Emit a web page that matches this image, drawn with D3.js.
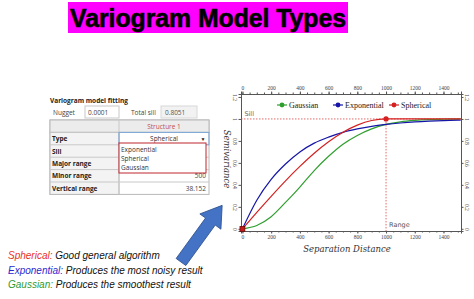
<!DOCTYPE html>
<html>
<head>
<meta charset="utf-8">
<script src="https://cdn.jsdelivr.net/npm/d3@7"></script>
<style>
  body { margin: 0; background: #fff; }
  svg { display: block; }
</style>
</head>
<body>
<div id="chart"></div>
<script>
// values
var distances   = [0, 100, 200, 300, 400, 500, 600, 700, 800, 900, 1000, 1100, 1200, 1300, 1400, 1500, 1520];
var gaussian    = [0, 0.03, 0.11, 0.24, 0.38, 0.53, 0.66, 0.77, 0.85, 0.91, 0.95, 0.974, 0.987, 0.994, 0.997, 0.999, 1];
var exponential = [0, 0.26, 0.45, 0.59, 0.70, 0.78, 0.835, 0.878, 0.909, 0.933, 0.95, 0.963, 0.973, 0.98, 0.985, 0.989, 0.99];
var spherical   = [0, 0.15, 0.296, 0.437, 0.568, 0.688, 0.792, 0.879, 0.944, 0.986, 1, 1, 1, 1, 1, 1, 1];
var seriesNames = ["Gaussian", "Exponential", "Spherical"];
var seriesColors = ["#2e9e2e", "#1515a8", "#d42020"];
var xTicks = [0, 200, 400, 600, 800, 1000, 1200, 1400];
var yTicks = [0, 0.2, 0.4, 0.6, 0.8, 1, 1.2];
var sillValue = 1;
var rangeValue = 1000;

var typeOptions = ["Exponential", "Spherical", "Gaussian"];
var tableRows = ["Type", "Sill", "Major range", "Minor range", "Vertical range"];
var notes = [
  {name: "Spherical:", text: " Good general algorithm", color: "#e8302a"},
  {name: "Exponential:", text: " Produces the most noisy result", color: "#2a2ad0"},
  {name: "Gaussian:", text: " Produces the smoothest result", color: "#2f9a2f"}
];

var svg = d3.select("#chart").append("svg")
  .attr("width", 474)
  .attr("height", 299);

// title
svg.append("rect").attr("x", 68).attr("y", 2).attr("width", 280).attr("height", 31).attr("fill", "#ff00ff");
svg.append("text")
  .attr("x", 70).attr("y", 27)
  .attr("font-family", "Liberation Sans, Arial, sans-serif")
  .attr("font-weight", "bold")
  .attr("font-size", 25)
  .attr("stroke", "#000").attr("stroke-width", 0.6)
  .attr("textLength", 276)
  .attr("lengthAdjust", "spacingAndGlyphs")
  .text("Variogram Model Types");

// ---- dialog screenshot ----
var ui = svg.append("g").attr("font-family", "Open Sans, Noto Sans, sans-serif").attr("font-size", 6.5);
ui.append("text").attr("x", 50).attr("y", 103).attr("font-weight", "bold").attr("fill", "#222").text("Variogram model fitting");
ui.append("text").attr("x", 53).attr("y", 115).attr("fill", "#444").text("Nugget");
ui.append("rect").attr("x", 85).attr("y", 106).attr("width", 34).attr("height", 12).attr("fill", "#fff").attr("stroke", "#c8c8c8");
ui.append("text").attr("x", 88).attr("y", 115).attr("fill", "#444").text("0.0001");
ui.append("text").attr("x", 131).attr("y", 115).attr("fill", "#444").text("Total sill");
ui.append("rect").attr("x", 161).attr("y", 106).attr("width", 36).attr("height", 12).attr("fill", "#f2f2f2").attr("stroke", "#d8d8d8");
ui.append("text").attr("x", 165).attr("y", 115).attr("fill", "#555").text("0.8051");

var tx = 50, tMid = 119, tRight = 209, tTop = 120, rowH = 12.4;
ui.append("rect").attr("x", tx).attr("y", tTop).attr("width", tRight - tx).attr("height", rowH * 6)
  .attr("fill", "#fff").attr("stroke", "#b8b8b8");
ui.append("rect").attr("x", tx).attr("y", tTop).attr("width", tRight - tx).attr("height", rowH)
  .attr("fill", "#ececec").attr("stroke", "#b8b8b8");
ui.append("rect").attr("x", tx).attr("y", tTop + rowH).attr("width", tMid - tx).attr("height", rowH * 5)
  .attr("fill", "#f3f3f3").attr("stroke", "#b8b8b8");
ui.append("text").attr("x", (tMid + tRight) / 2).attr("y", tTop + 8.5).attr("text-anchor", "middle")
  .attr("fill", "#c0504d").text("Structure 1");
tableRows.forEach(function(r, i) {
  var y = tTop + rowH * (i + 1);
  ui.append("line").attr("x1", tx).attr("x2", tRight).attr("y1", y).attr("y2", y).attr("stroke", "#c8c8c8");
  ui.append("text").attr("x", tx + 2).attr("y", y + 8.8).attr("font-weight", "bold").attr("fill", "#222").text(r);
});
ui.append("line").attr("x1", tMid).attr("x2", tMid).attr("y1", tTop).attr("y2", tTop + rowH * 6).attr("stroke", "#c8c8c8");
ui.append("rect").attr("x", tMid).attr("y", tTop + rowH).attr("width", tRight - tMid).attr("height", rowH)
  .attr("fill", "none").attr("stroke", "#7aa7d8");
ui.append("text").attr("x", 164).attr("y", tTop + rowH + 8.8).attr("text-anchor", "middle").attr("fill", "#333").text("Spherical");
ui.append("text").attr("x", 203).attr("y", tTop + rowH + 8.8).attr("text-anchor", "middle").attr("font-size", 5).attr("fill", "#222").text("\u25BC");
ui.append("text").attr("x", 206).attr("y", tTop + rowH * 4 + 8.8).attr("text-anchor", "end").attr("fill", "#444").text("500");
ui.append("text").attr("x", 206).attr("y", tTop + rowH * 5 + 8.8).attr("text-anchor", "end").attr("fill", "#444").text("38.152");
ui.append("rect").attr("x", 119).attr("y", 143).attr("width", 87).attr("height", 30)
  .attr("fill", "#fff").attr("stroke", "#c0272d").attr("stroke-width", 1);
typeOptions.forEach(function(o, i) {
  ui.append("text").attr("x", 121).attr("y", 151.5 + i * 9).attr("fill", "#333").text(o);
});

// arrow
var arrow = svg.append("g").attr("transform", "translate(181,262) rotate(-54)");
arrow.append("path")
  .attr("d", "M0,-6 L50,-6 L50,-13 L70,0 L50,13 L50,6 L0,6 Z")
  .attr("fill", "#4472c4").attr("stroke", "#2f528f").attr("stroke-width", 0.8);

// notes
var notesG = svg.append("g").attr("font-family", "Liberation Sans, Arial, sans-serif")
  .attr("font-style", "italic").attr("font-size", 10);
notes.forEach(function(n, i) {
  var t = notesG.append("text").attr("x", 8).attr("y", 259 + i * 14.5);
  t.append("tspan").attr("fill", n.color).text(n.name);
  t.append("tspan").attr("fill", "#111").text(n.text);
});

// ---- variogram chart ----
var x = d3.scaleLinear().domain([-10, 1522]).range([241, 461]);
var y = d3.scaleLinear().domain([-0.02, 1.227]).range([231, 94]);

var chart = svg.append("g").attr("font-family", "Liberation Serif, serif");

var tickFont = function(g) {
  g.select(".domain").attr("stroke", "#555");
  g.selectAll(".tick line").attr("stroke", "#555");
  g.selectAll(".tick text").attr("font-size", 5.5).attr("fill", "#444").attr("font-family", "Liberation Serif, serif");
};
var minorX = d3.range(0, 1550, 50);
var fmt = d3.format("d");

chart.append("g").attr("transform", "translate(0,231)")
  .call(d3.axisBottom(x).tickValues(minorX).tickSize(1.5).tickFormat(""))
  .call(tickFont);
chart.append("g").attr("transform", "translate(0,231)")
  .call(d3.axisBottom(x).tickValues(xTicks).tickSize(2.5).tickPadding(2).tickFormat(fmt))
  .call(tickFont);
chart.append("g").attr("transform", "translate(0,94)")
  .call(d3.axisTop(x).tickValues(minorX).tickSize(1.5).tickFormat(""))
  .call(tickFont);
chart.append("g").attr("transform", "translate(0,94)")
  .call(d3.axisTop(x).tickValues(xTicks).tickSize(2.5).tickPadding(1.5).tickFormat(fmt))
  .call(tickFont);

var yLeft = chart.append("g").attr("transform", "translate(241,0)")
  .call(d3.axisLeft(y).tickValues(yTicks).tickSize(2.5).tickFormat(d3.format("")))
  .call(tickFont);
yLeft.selectAll(".tick text").attr("text-anchor", "middle").attr("x", 0).attr("dy", "0.35em")
  .attr("transform", "translate(-6,0) rotate(90)");
var yRight = chart.append("g").attr("transform", "translate(461,0)")
  .call(d3.axisRight(y).tickValues(yTicks).tickSize(2.5).tickFormat(d3.format("")))
  .call(tickFont);
yRight.selectAll(".tick text").attr("text-anchor", "middle").attr("x", 0).attr("dy", "0.35em")
  .attr("transform", "translate(6,0) rotate(90)");

// sill and range guides
chart.append("line")
  .attr("x1", x.range()[0]).attr("x2", x.range()[1])
  .attr("y1", y(sillValue)).attr("y2", y(sillValue))
  .attr("stroke", "#d44").attr("stroke-width", 0.8).attr("stroke-dasharray", "1.5,1.5");
chart.append("line")
  .attr("x1", x(rangeValue)).attr("x2", x(rangeValue))
  .attr("y1", y(sillValue)).attr("y2", y.range()[0])
  .attr("stroke", "#d44").attr("stroke-width", 0.8).attr("stroke-dasharray", "1.5,1.5");
chart.append("text").attr("x", x(0) + 2).attr("y", y(sillValue) - 3)
  .attr("font-family", "DejaVu Sans, sans-serif").attr("font-size", 6.5).attr("fill", "#666").text("Sill");
chart.append("text").attr("x", x(rangeValue) + 3).attr("y", y(0) - 2)
  .attr("font-family", "DejaVu Sans, sans-serif").attr("font-size", 6.5).attr("fill", "#555").text("Range");

// curves
var seriesValues = [gaussian, exponential, spherical];
var line = d3.line()
  .x(function(d) { return x(d[0]); })
  .y(function(d) { return y(d[1]); })
  .curve(d3.curveMonotoneX);
seriesValues.forEach(function(vals, i) {
  chart.append("path")
    .datum(distances.map(function(h, j) { return [h, vals[j]]; }))
    .attr("fill", "none")
    .attr("stroke", seriesColors[i])
    .attr("stroke-width", 1.2)
    .attr("d", line);
});

// markers
chart.append("circle").attr("cx", x(rangeValue)).attr("cy", y(sillValue)).attr("r", 2.6).attr("fill", "#d42020");
chart.append("rect").attr("x", x(0) - 2.5).attr("y", y(0) - 2.5).attr("width", 5).attr("height", 5)
  .attr("fill", "#c41a1a").attr("stroke", "#500").attr("stroke-width", 0.6);

// legend
var legendX = [282, 338, 394];
seriesNames.forEach(function(name, i) {
  var g = chart.append("g").attr("transform", "translate(" + legendX[i] + ",105)");
  g.append("line").attr("x1", -5).attr("x2", 5).attr("stroke", seriesColors[i]).attr("stroke-width", 1.2);
  g.append("circle").attr("r", 2.4).attr("fill", seriesColors[i]);
  g.append("text").attr("x", 7).attr("y", 2.8).attr("font-size", 8).attr("fill", "#222").text(name);
});

// axis titles
chart.append("text")
  .attr("x", 347).attr("y", 252).attr("text-anchor", "middle")
  .attr("font-family", "DejaVu Serif, serif").attr("font-style", "italic").attr("font-size", 8.5)
  .attr("fill", "#333")
  .text("Separation Distance");
chart.append("text")
  .attr("transform", "translate(224,159) rotate(90)")
  .attr("text-anchor", "middle")
  .attr("font-family", "DejaVu Serif, serif").attr("font-style", "italic").attr("font-size", 8.5)
  .attr("fill", "#333")
  .text("Semivariance");
</script>
</body>
</html>
